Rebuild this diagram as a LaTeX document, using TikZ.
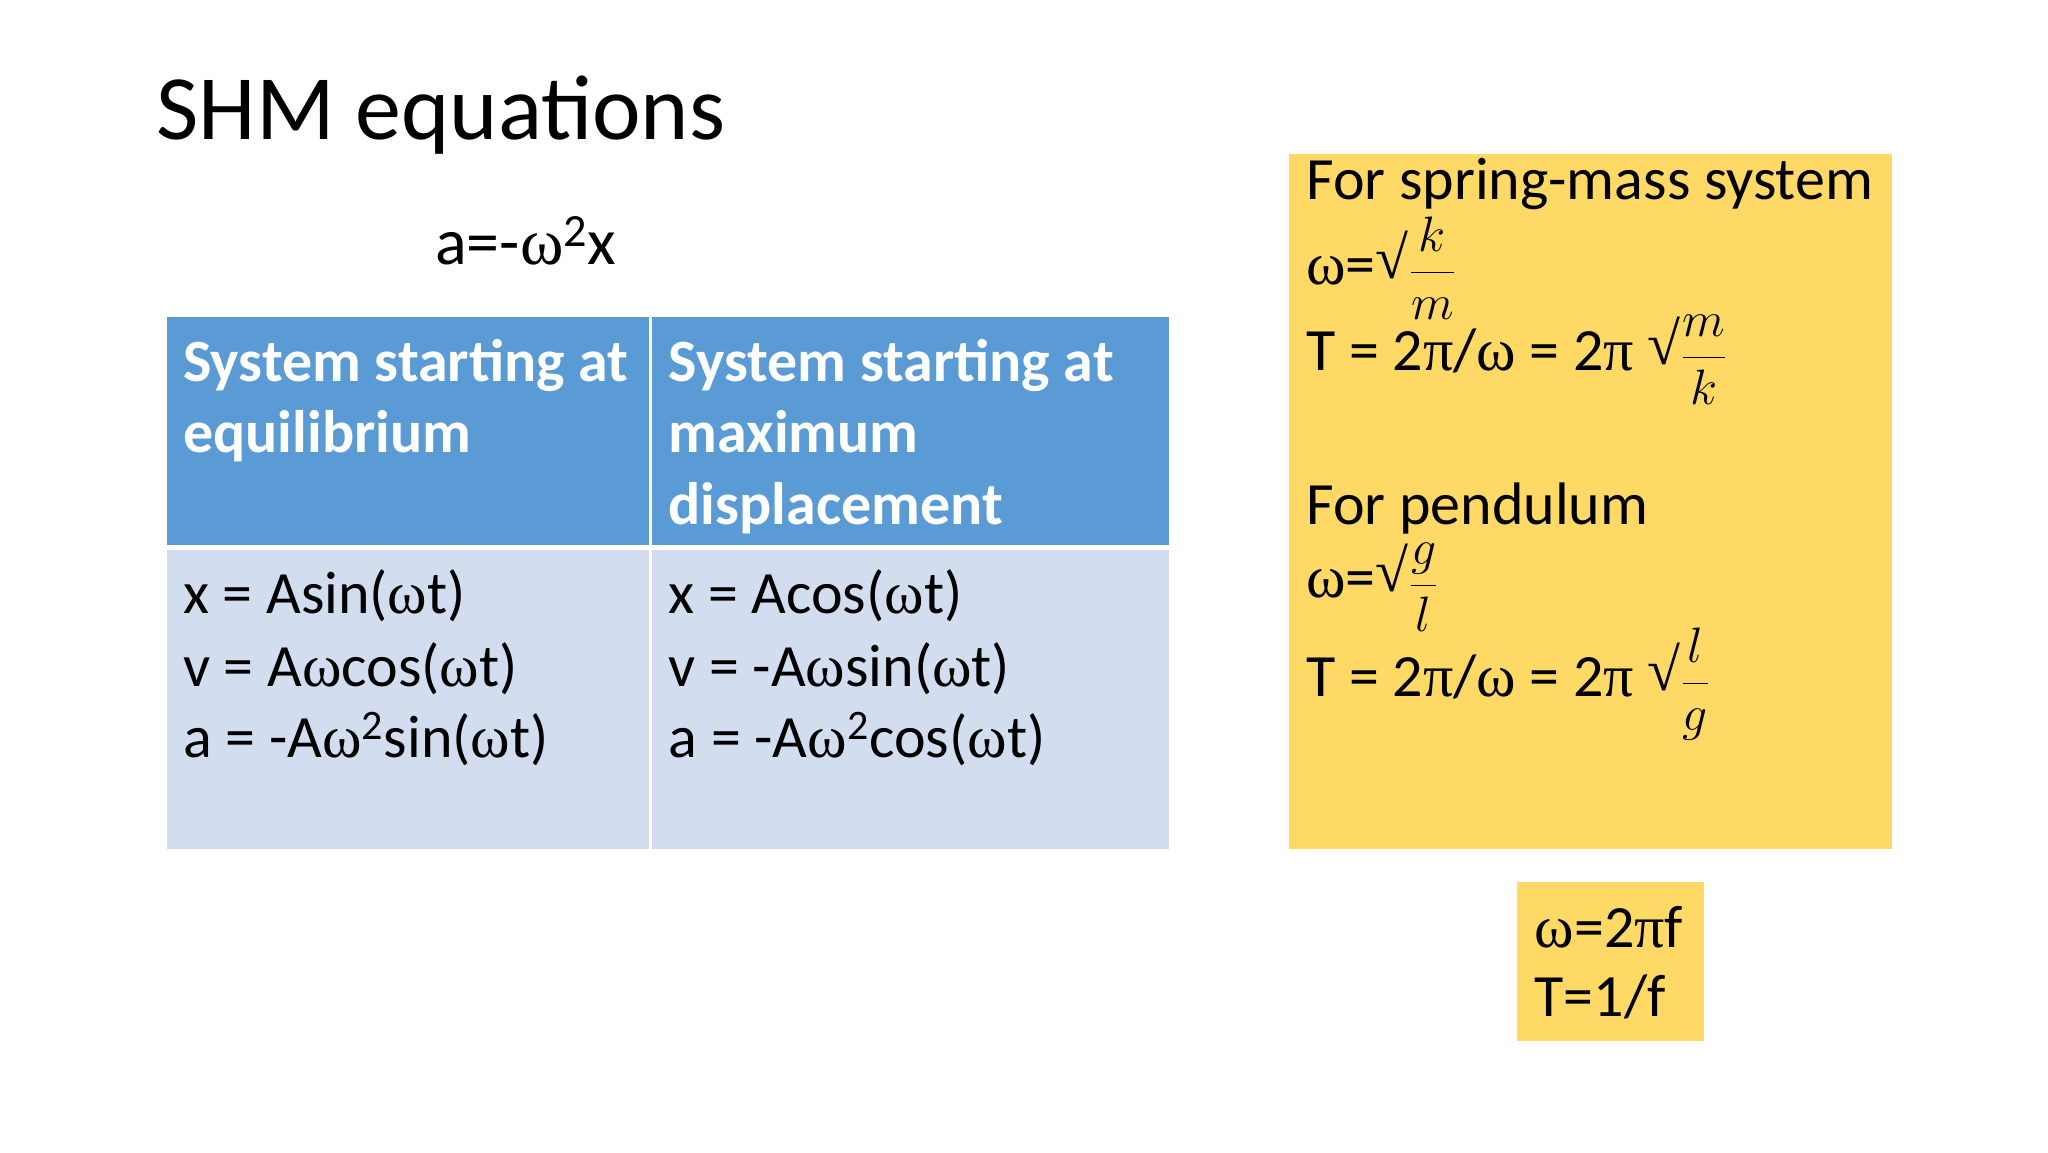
\documentclass[tikz,border=0pt]{standalone}
\usepackage{fontspec}
\setmainfont{Carlito}
\newfontfamily\sym{Liberation Serif}
\definecolor{hdr}{HTML}{5B9BD5}
\definecolor{bdy}{HTML}{D2DEEF}
\definecolor{yel}{HTML}{FFD966}
\newcommand{\w}{{\sym ω}}
\newcommand{\p}{{\sym π}}
\newcommand{\fr}[2]{{\fontsize{30}{30}\selectfont$\displaystyle\frac{#1}{#2}$}}
\begin{document}
\begin{tikzpicture}[x=0.4943pt,y=-0.4943pt,
  txt/.style={anchor=base west,inner sep=0pt,font=\fontsize{30}{30}\selectfont},
  htxt/.style={txt,text=white,font=\fontsize{30}{30}\selectfont\bfseries}]
\useasboundingbox (0,0) rectangle (2071.6,1165.3);
\fill[white] (0,0) rectangle (2071.6,1165.3);
\node[anchor=base west,inner sep=0pt,font=\fontsize{46}{46}\selectfont] (title) at (158,141) {SHM equations};
\node[anchor=base,inner sep=0pt,font=\fontsize{33}{33}\selectfont] (eq) at (532,268) {a=-\w\textsuperscript{2}x};
% table
\fill[hdr] (169,321) rectangle (1182,552);
\fill[bdy] (169,556) rectangle (1182,859);
\draw[white,line width=1.5pt] (658,321) -- (658,859);
\draw[white,line width=2.5pt] (169,554) -- (1182,554);
\node[htxt] (h1a) at (185,386) {System starting at};
\node[htxt] (h1b) at (185,458) {equilibrium};
\node[htxt] (h2a) at (676,386) {System starting at};
\node[htxt] (h2b) at (676,458) {maximum};
\node[htxt] (h2c) at (676,531) {displacement};
\node[txt] (b1a) at (185,621) {x = Asin(\w t)};
\node[txt] (b1b) at (185,694) {v = A\w cos(\w t)};
\node[txt] (b1c) at (185,766) {a = -A\w\textsuperscript{2}sin(\w t)};
\node[txt] (b2a) at (676,621) {x = Acos(\w t)};
\node[txt] (b2b) at (676,694) {v = -A\w sin(\w t)};
\node[txt] (b2c) at (676,766) {a = -A\w\textsuperscript{2}cos(\w t)};
% yellow box
\fill[yel] (1304,156) rectangle (1914,859);
\node[txt] (s1) at (1321,202) {For spring-mass system};
\node[anchor=west,inner sep=0pt,font=\fontsize{30}{30}\selectfont] (s2) at (1321,271) {\w=\raisebox{0.1em}{\sym √}\fr{k}{m}};
\node[anchor=west,inner sep=0pt,font=\fontsize{30}{30}\selectfont] (s3) at (1321,364) {T = 2\p/\w\ = 2\p\ \raisebox{0.1em}{\sym √}\fr{m}{k}};
\node[txt] (s4) at (1321,531) {For pendulum};
\node[anchor=west,inner sep=0pt,font=\fontsize{30}{30}\selectfont] (s5) at (1321,594) {\w=\raisebox{0.1em}{\sym √}\fr{g}{l}};
\node[anchor=west,inner sep=0pt,font=\fontsize{30}{30}\selectfont] (s6) at (1321,692) {T = 2\p/\w\ = 2\p\ \raisebox{0.1em}{\sym √}\fr{l}{g}};
% small box
\fill[yel] (1534,892) rectangle (1724,1053);
\node[txt] (f1) at (1552,958) {\w=2\p f};
\node[txt] (f2) at (1552,1028) {T=1/f};
\end{tikzpicture}
\end{document}
